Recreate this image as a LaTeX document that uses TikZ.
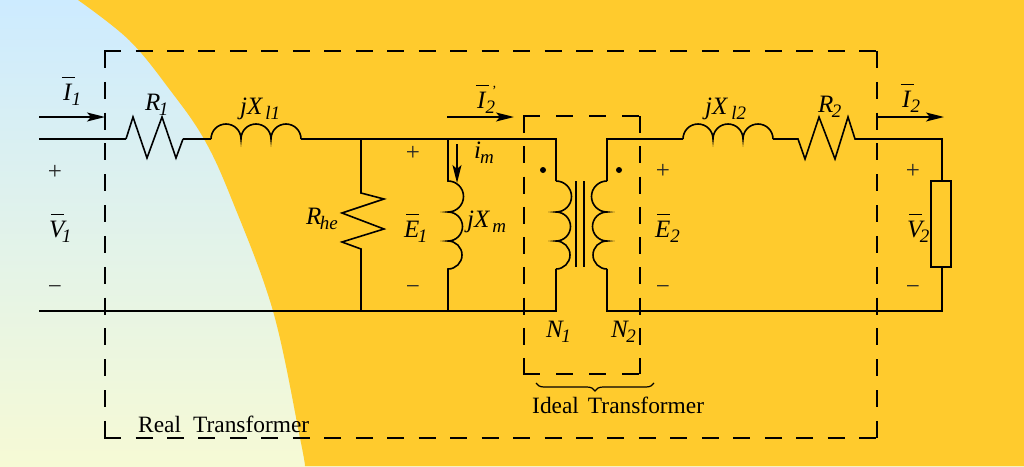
\documentclass[tikz,border=0pt]{standalone}
\usepackage{fontspec}
\setmainfont{Liberation Serif}
\usetikzlibrary{arrows.meta,decorations.pathreplacing,calc}
\definecolor{bgorange}{HTML}{FFCB2D}
\definecolor{bgtop}{HTML}{CDEBFF}
\definecolor{bgbottom}{HTML}{F6FAD5}
\newsavebox{\glyphbox}
\newcommand{\barred}[1]{\sbox{\glyphbox}{\itshape #1}\makebox[0pt][l]{\makebox[\wd\glyphbox][c]{\hspace{2pt}\rule[22pt]{13pt}{1.3pt}}}\usebox{\glyphbox}}
\newcommand{\low}[2][0pt]{\hspace{#1}\raisebox{-0.22em}{\fontsize{19}{19}\selectfont\itshape #2}}
\newcommand{\itxt}[1]{{\itshape #1}}
\tikzset{
  x=1pt,y=-1pt,
  wire/.style={line width=1.6pt,line join=miter,line cap=butt},
  dashbox/.style={line width=1.8pt,dash pattern=on 17pt off 14.46pt},
  dashboxv/.style={line width=1.8pt,dash pattern=on 17pt off 13.83pt},
  dashin/.style={line width=1.8pt,dash pattern=on 17pt off 16pt},
  dashinv/.style={line width=1.8pt,dash pattern=on 17pt off 13.25pt},
  flow/.style={line width=1.6pt,-{Stealth[length=18pt,width=9pt,inset=4pt]}},
  lab/.style={inner sep=0pt,anchor=base west,font=\fontsize{25}{26}\selectfont},
  captiontext/.style={inner sep=0pt,anchor=base west,font=\fontsize{23.4}{24}\selectfont},
  sign/.style={inner sep=0pt,font=\fontsize{25}{26}\selectfont,text=black!85},
  dotmark/.style={circle,fill=black,inner sep=0pt,minimum size=6pt}
}
\begin{document}
\begin{tikzpicture}
\useasboundingbox (0,0) rectangle (1024,466);
\shade[top color=bgtop,bottom color=bgbottom] (0,0) rectangle (1024,466);
\fill[bgorange] plot[smooth,tension=0.6] coordinates {(78,0) (129,40) (170,90) (204,139) (232,200) (273,311) (300,438) (305,466)} -- (1024,466) -- (1024,0) -- cycle;

% named junctions
\coordinate (inT) at (39,139);
\coordinate (inB) at (39,311);
\coordinate (r1a) at (126,139);
\coordinate (r1b) at (183,139);
\coordinate (l1a) at (211,139);
\coordinate (l1b) at (301,139);
\coordinate (jT1) at (361,139);
\coordinate (jB1) at (361,311);
\coordinate (jT2) at (448,139);
\coordinate (jB2) at (448,311);
\coordinate (priT) at (556,139);
\coordinate (priB) at (556,311);
\coordinate (secT) at (607,139);
\coordinate (secB) at (607,311);
\coordinate (l2a) at (683,139);
\coordinate (l2b) at (773,139);
\coordinate (r2a) at (798,139);
\coordinate (r2b) at (855,139);
\coordinate (corT) at (942,139);
\coordinate (corB) at (942,311);
\node[draw,line width=1.6pt,minimum width=20pt,minimum height=86pt,inner sep=0pt] (load) at (941,224) {};

% wires
\draw[wire] (inT) -- (r1a);
\draw[wire] (r1a) -- (133,117) -- (147,158) -- (162,117) -- (176,158) -- (r1b);
\draw[wire] (r1b) -- (l1a);
\draw[wire] (l1a) arc[start angle=180,end angle=360,radius=15] arc[start angle=180,end angle=360,radius=15] arc[start angle=180,end angle=360,radius=15];
\draw[wire] (l1b) -- (priT) -- (556,181);
\draw[wire] (inB) -- (priB) -- (556,269);
\draw[wire] (jT1) -- (361,193) -- (384,199) -- (342,213) -- (384,229) -- (342,242) -- (361,249) -- (jB1);
\draw[wire] (jT2) -- (448,181) arc[start angle=-90,end angle=90,radius=15.5] arc[start angle=-90,end angle=90,radius=14.5] arc[start angle=-90,end angle=90,radius=14] -- (jB2);
\draw[wire] (556,181) arc[start angle=-90,end angle=90,radius=15.5] arc[start angle=-90,end angle=90,radius=14.5] arc[start angle=-90,end angle=90,radius=14];
\draw[wire] (607,181) arc[start angle=270,end angle=90,radius=15.5] arc[start angle=270,end angle=90,radius=14.5] arc[start angle=270,end angle=90,radius=14];
\draw[wire] (576,181) -- (576,267);
\draw[wire] (584,181) -- (584,267);
\draw[wire] (607,181) -- (secT) -- (l2a);
\draw[wire] (l2a) arc[start angle=180,end angle=360,radius=15] arc[start angle=180,end angle=360,radius=15] arc[start angle=180,end angle=360,radius=15];
\draw[wire] (l2b) -- (r2a) -- (805,159) -- (819,117) -- (835,159) -- (848,117) -- (r2b) -- (corT) -- (load.north -| corT);
\draw[wire] (load.south -| corT) -- (corB) -- (secB) -- (607,269);

% dashed boxes
\coordinate (oTL) at (105,51);
\coordinate (oTR) at (877,51);
\coordinate (oBL) at (105,438);
\coordinate (oBR) at (877,438);
\draw[dashbox] ($(oTL)+(-.9,0)$) -- ($(oTR)+(.9,0)$);
\draw[dashbox] ($(oBL)+(-.9,0)$) -- ($(oBR)+(.9,0)$);
\draw[dashboxv] (oTL) -- (oBL);
\draw[dashboxv] (oTR) -- (oBR);
\coordinate (iTL) at (524,116);
\coordinate (iTR) at (640,116);
\coordinate (iBL) at (524,374);
\coordinate (iBR) at (640,374);
\draw[dashin] ($(iTL)+(-.9,0)$) -- ($(iTR)+(.9,0)$);
\draw[dashin] ($(iBL)+(-.9,0)$) -- ($(iBR)+(.9,0)$);
\draw[dashinv] (iTL) -- (iBL);
\draw[dashinv] (iTR) -- (iBR);

% arrows
\coordinate (a1s) at (39,117); \coordinate (a1e) at (105,117);
\coordinate (a2s) at (447,117); \coordinate (a2e) at (514,117);
\coordinate (a3s) at (457,144); \coordinate (a3e) at (457,183);
\coordinate (a4s) at (877,117); \coordinate (a4e) at (944,117);
\draw[flow] (a1s) -- (a1e);
\draw[flow] (a2s) -- (a2e);
\draw[flow] (a3s) -- (a3e);
\draw[flow] (a4s) -- (a4e);

% dots
\node[dotmark] (d1) at (543,170) {};
\node[dotmark] (d2) at (619,170) {};

% brace
\coordinate (brA) at (536,383);
\coordinate (brB) at (654,383);
\draw[line width=1.2pt,decorate,decoration={brace,mirror,amplitude=8pt}] (brA) -- (brB);

% labels
\node[lab] (tI1) at (63,100) {\barred{I}\low{1}};
\node[lab] (tR1) at (145,110) {\itxt{R}\low[-1.5pt]{1}};
\node[lab] (tX1) at (240,114) {\itxt{jX}\low[3pt]{l1}};
\node[lab] (tV1) at (49,237) {\barred{V}\low[-2.5pt]{1}};
\node[lab] (tRh) at (306,224) {\itxt{R}\low[-1.5pt]{he}};
\node[lab] (tE1) at (404,237) {\barred{E}\low[-1.5pt]{1}};
\node[lab] (tIp) at (477,108) {\barred{I}\low{2}\makebox[0pt][l]{\hspace{-4pt}\raisebox{13pt}{\fontsize{14}{14}\selectfont\itshape '}}};
\node[lab] (tim) at (474,158) {\itxt{i}\low[-1pt]{m}};
\node[lab] (tXm) at (467,227) {\itxt{jX}\low[3pt]{m}};
\node[lab] (tE2) at (655,237) {\barred{E}\low{2}};
\node[lab] (tX2) at (705,114) {\itxt{jX}\low[4pt]{l2}};
\node[lab] (tR2) at (818,112) {\itxt{R}\low[-1.5pt]{2}};
\node[lab] (tI2) at (902,107) {\barred{I}\low{2}};
\node[lab] (tV2) at (907,237) {\barred{V}\low[-2.5pt]{2}};
\node[lab] (tN1) at (546,337) {\itxt{N}\low[-1.5pt]{1}};
\node[lab] (tN2) at (611,337) {\itxt{N}\low[-1.5pt]{2}};
\node[captiontext] (tReal) at (138,432) {Real\hspace{12pt}Transformer};
\node[captiontext] (tIdeal) at (532,413) {Ideal\hspace{9pt}Transformer};

\node[sign] (p1) at (55,172) {+};
\node[sign] (m1) at (55,290) {−};
\node[sign] (p2) at (413,153) {+};
\node[sign] (m2) at (413,290) {−};
\node[sign] (p3) at (663,171) {+};
\node[sign] (m3) at (663,290) {−};
\node[sign] (p4) at (913,171) {+};
\node[sign] (m4) at (913,290) {−};
\end{tikzpicture}
\end{document}
